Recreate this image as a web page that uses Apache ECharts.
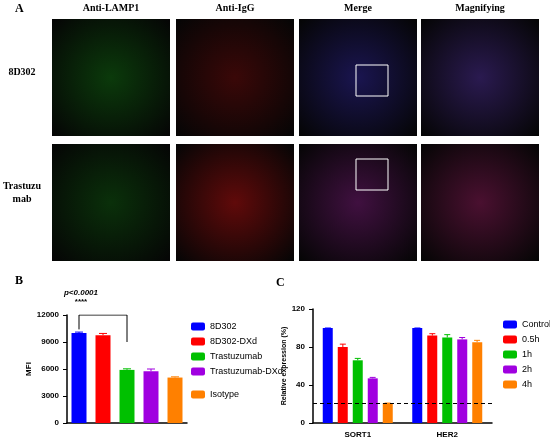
<!DOCTYPE html>
<html><head><meta charset="utf-8">
<script src="https://cdn.jsdelivr.net/npm/echarts@6/dist/echarts.min.js"></script>
<style>html,body{margin:0;background:#fff}#c{width:550px;height:441px}</style>
</head><body><div id="c"></div>
<script>
const mfiGroups = ["8D302", "8D302-DXd", "Trastuzumab", "Trastuzumab-DXd", "Isotype"];
const mfiValues = [10000, 9750, 5900, 5750, 5050];
const mfiErrors = [100, 200, 120, 250, 80];
const mfiColors = ["#0000ff", "#ff0000", "#00c000", "#a000e0", "#ff8000"];

const genes = ["SORT1", "HER2"];
const timePoints = ["Control", "0.5h", "1h", "2h", "4h"];
const relExpr = [[100, 100], [80, 92], [66, 90], [47, 88], [21, 85]];
const relErr = [[0, 0], [3, 2], [2, 3], [1, 2], [0, 2]];
const cutoff = 21;

const columnTitles = ["Anti-LAMP1", "Anti-IgG", "Merge", "Magnifying"];
const panelX = [52, 176, 299, 421];
const panelY = [19, 144];
const tints = [["#0b3a0b", "#3a0808", "#1a1550", "#2a1a50"], ["#0a300a", "#600a0a", "#401040", "#4a1030"]];

const chart = echarts.init(document.getElementById("c"));
const serif = "Liberation Serif";
const sans = "Liberation Sans";

const graphics = [];
graphics.push({ type: "text", left: 15, top: 3, style: { text: "A", font: "bold 12px " + serif } });
graphics.push({ type: "text", left: 15, top: 275, style: { text: "B", font: "bold 12px " + serif } });
graphics.push({ type: "text", left: 276, top: 277, style: { text: "C", font: "bold 12px " + serif } });
columnTitles.forEach((t, i) => graphics.push({ type: "text", x: panelX[i] + 59, y: 3,
  style: { text: t, font: "bold 10px " + serif, textAlign: "center" } }));
graphics.push({ type: "text", x: 22, y: 67, style: { text: "8D302", font: "bold 10px " + serif, textAlign: "center" } });
graphics.push({ type: "text", x: 22, y: 180, style: { text: "Trastuzu\nmab", font: "bold 10px " + serif, textAlign: "center", lineHeight: 13 } });
panelY.forEach((y, r) => panelX.forEach((x, c) => {
  graphics.push({ type: "rect", shape: { x, y, width: 118, height: 117 },
    style: { fill: new echarts.graphic.RadialGradient(0.5, 0.5, 0.7, [{ offset: 0, color: tints[r][c] }, { offset: 1, color: "#050505" }]) } });
}));
graphics.push({ type: "rect", shape: { x: 356, y: 65, width: 32, height: 31 }, style: { fill: "none", stroke: "#fff", lineWidth: 1 } });
graphics.push({ type: "rect", shape: { x: 356, y: 159, width: 32, height: 31 }, style: { fill: "none", stroke: "#fff", lineWidth: 1 } });
graphics.push({ type: "text", x: 81, y: 289, style: { text: "p<0.0001", font: "italic bold 8px " + sans, textAlign: "center" } });
graphics.push({ type: "text", x: 81, y: 298, style: { text: "****", font: "bold 8px " + sans, textAlign: "center" } });

const series = [];
mfiGroups.forEach((g, i) => {
  series.push({ type: "bar", name: g, xAxisIndex: 0, yAxisIndex: 0, barWidth: 15, barGap: "-100%",
    itemStyle: { color: mfiColors[i] }, data: mfiValues.map((v, j) => (j === i ? v : "-")) });
});
series.push({ type: "custom", xAxisIndex: 0, yAxisIndex: 0, silent: true, z: 3,
  data: mfiValues.map((v, i) => [i, v, mfiErrors[i]]),
  renderItem: (p, api) => {
    const i = api.value(0);
    const top = api.coord([i, api.value(1) + api.value(2)]);
    const base = api.coord([i, api.value(1)]);
    const c = mfiColors[i];
    return { type: "group", children: [
      { type: "line", shape: { x1: top[0], y1: top[1], x2: top[0], y2: base[1] }, style: { stroke: c } },
      { type: "line", shape: { x1: top[0] - 4, y1: top[1], x2: top[0] + 4, y2: top[1] }, style: { stroke: c } },
    ] };
  } });
// significance bracket 8D302 vs Trastuzumab
series.push({ type: "line", xAxisIndex: 0, yAxisIndex: 0, symbol: "none", silent: true,
  lineStyle: { color: "#000", width: 1 }, data: [[0, 10400], [0, 12000], [2, 12000], [2, 9000]] });

timePoints.forEach((t, k) => {
  series.push({ type: "bar", name: t, xAxisIndex: 1, yAxisIndex: 1, barWidth: 10, barGap: "50%",
    itemStyle: { color: mfiColors[k] }, data: relExpr[k] });
});
series.push({ type: "custom", xAxisIndex: 1, yAxisIndex: 1, silent: true, z: 3,
  data: genes.flatMap((g, gi) => timePoints.map((t, k) => [gi, relExpr[k][gi], relErr[k][gi], k])),
  renderItem: (p, api) => {
    const k = api.value(3);
    const bw = api.size([1, 0])[0];
    const off = (k - 2) * 15 * (bw / 90);
    const top = api.coord([api.value(0), api.value(1) + api.value(2)]);
    const base = api.coord([api.value(0), api.value(1)]);
    const c = mfiColors[k];
    return { type: "group", children: [
      { type: "line", shape: { x1: top[0] + off, y1: top[1], x2: top[0] + off, y2: base[1] }, style: { stroke: c } },
      { type: "line", shape: { x1: top[0] + off - 3, y1: top[1], x2: top[0] + off + 3, y2: top[1] }, style: { stroke: c } },
    ] };
  } });
series[series.length - 6].markLine = { silent: true, symbol: "none", label: { show: false },
  lineStyle: { color: "#000", type: [4, 3], width: 1.2 }, data: [{ yAxis: cutoff }] };

const axisText = { color: "#000", fontFamily: sans, fontWeight: "bold", fontSize: 8 };
const legendText = { fontSize: 9, fontFamily: sans, color: "#000" };
chart.setOption({
  animation: false,
  textStyle: { fontFamily: sans },
  graphic: graphics,
  grid: [
    { left: 67, top: 315, width: 120, height: 108 },
    { left: 313, top: 309, width: 179, height: 114 },
  ],
  legend: [
    { data: mfiGroups.slice(0, 4), left: 186, top: 317, orient: "vertical", itemWidth: 14, itemHeight: 8, itemGap: 6,
      textStyle: legendText },
    { data: mfiGroups.slice(4), left: 186, top: 385, orient: "vertical", itemWidth: 14, itemHeight: 8,
      textStyle: legendText },
    { data: timePoints, left: 498, top: 315, orient: "vertical", itemWidth: 14, itemHeight: 8, itemGap: 6,
      textStyle: legendText },
  ],
  xAxis: [
    { type: "category", gridIndex: 0, data: mfiGroups, axisLabel: { show: false },
      axisLine: { lineStyle: { color: "#000", width: 1.5 } }, axisTick: { alignWithLabel: true, length: 4, lineStyle: { color: "#000" } } },
    { type: "category", gridIndex: 1, data: genes, axisLabel: axisText,
      axisLine: { lineStyle: { color: "#000", width: 1.5 } }, axisTick: { alignWithLabel: true, length: 4, lineStyle: { color: "#000" } } },
  ],
  yAxis: [
    { type: "value", gridIndex: 0, min: 0, max: 12000, interval: 3000, name: "MFI", nameLocation: "middle", nameGap: 33,
      nameTextStyle: axisText, axisLabel: { ...axisText, formatter: (v) => String(v) }, splitLine: { show: false },
      axisLine: { show: true, lineStyle: { color: "#000", width: 1.5 } }, axisTick: { show: true, length: 4, lineStyle: { color: "#000" } } },
    { type: "value", gridIndex: 1, min: 0, max: 120, interval: 40, name: "Relative expression (%)", nameLocation: "middle", nameGap: 20,
      nameTextStyle: { ...axisText, fontSize: 7 }, axisLabel: axisText, splitLine: { show: false },
      axisLine: { show: true, lineStyle: { color: "#000", width: 1.5 } }, axisTick: { show: true, length: 4, lineStyle: { color: "#000" } } },
  ],
  series,
});
</script></body></html>
